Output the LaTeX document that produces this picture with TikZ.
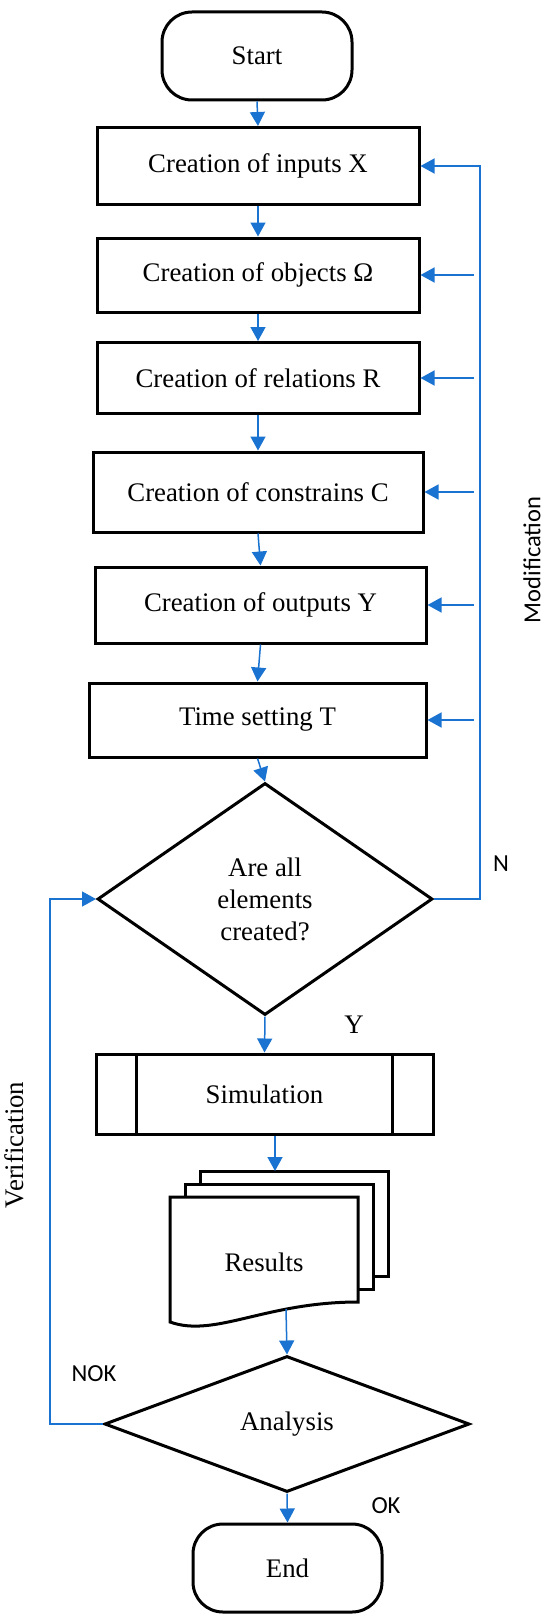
\documentclass[tikz,border=0pt]{standalone}
\usepackage{fontspec}
\setmainfont{Liberation Serif}
\newfontfamily\sanslabel{Carlito}
\usetikzlibrary{shapes.geometric,arrows.meta}
\definecolor{flowblue}{RGB}{26,115,208}

\begin{document}
\begin{tikzpicture}[x=1pt,y=-1pt,
		every node/.style={font=\fontsize{26.8}{32}\selectfont},
		terminal/.style={draw,line width=3pt,rounded corners=30pt,minimum width=190pt,minimum height=88pt},
		process/.style={draw,line width=3pt,minimum height=76pt},
		decision/.style={draw,diamond,line width=3pt,align=center,inner sep=0pt},
		flow/.style={draw=flowblue,line width=1.5pt,-{Triangle[length=14pt,width=15pt]}},
		branch/.style={font=\sanslabel\fontsize{24.5}{28}\selectfont}]
		\useasboundingbox (0,0) rectangle (550,1616);
		\node[terminal] (start) at (257,56) {Start};
		\node[process,minimum width=322pt,minimum height=77pt] (inputs) at (258,166) {Creation of inputs X};
		\node[process,minimum width=322pt,minimum height=74pt] (objects) at (258,275) {Creation of objects Ω};
		\node[process,minimum width=322pt,minimum height=71pt] (relations) at (258,378) {Creation of relations R};
		\node[process,minimum width=330pt,minimum height=80pt] (constrains) at (258,492) {Creation of constrains C};
		\node[process,minimum width=331pt,minimum height=76pt] (outputs) at (260.5,605) {Creation of outputs Y};
		\node[process,minimum width=337pt,minimum height=74pt] (timeset) at (257.5,720) {Time setting T};
		\node[decision,minimum width=335pt,minimum height=232pt] (created) at (265,899) {Are all\\elements\\created?};
		\node[process,minimum width=337pt,minimum height=80pt] (sim) at (264.5,1094) {Simulation};
		\draw[line width=3pt] ([xshift=42pt]sim.north west) -- ([xshift=42pt]sim.south west)
			([xshift=-42pt]sim.north east) -- ([xshift=-42pt]sim.south east);
		% stack of result pages
		\foreach \dx/\dy in {30/-26,15/-13}
			\draw[line width=3pt,fill=white] (170+\dx,1197+\dy) rectangle (358+\dx,1302+\dy);
		\draw[line width=3pt,fill=white] (170,1197) -- (358,1197) -- (358,1302)
			.. controls (265,1302) and (215,1338) .. (170,1322) -- cycle;
		\node (results) at (264,1262) {Results};
		\coordinate (res-in) at (275,1171);
		\coordinate (res-out) at (286,1309);
		\node[decision,minimum width=365pt,minimum height=136pt] (analysis) at (287,1424) {Analysis};
		\node[terminal,minimum width=189pt] (end) at (287.5,1568) {End};
		% main flow
		\draw[flow] (start.south) -- (inputs.north);
		\draw[flow] (inputs.south) -- (objects.north);
		\draw[flow] (objects.south) -- (relations.north);
		\draw[flow] (relations.south) -- (constrains.north);
		\draw[flow] (constrains.south) -- (outputs.north);
		\draw[flow] (outputs.south) -- (timeset.north);
		\draw[flow] (timeset.south) -- (created.north);
		\draw[flow] (created.south) -- (sim.north);
		\draw[flow] (sim.south -| res-in) -- (res-in);
		\draw[flow] (res-out) -- (analysis.north);
		\draw[flow] (analysis.south) -- (end.north);
		% modification loop
		\coordinate (rail) at (480,166);
		\draw[flow] (created.east) -| (rail) -- (inputs.east);
		\foreach \n in {objects,relations,constrains,outputs,timeset}{
			\path (\n.east -| rail) ++(-6,0) coordinate (\n-tap);
			\draw[flow] (\n-tap) -- (\n.east);
		}
		% verification loop
		\coordinate (vrail) at (50,1424);
		\draw[flow] (analysis.west) -- (vrail) |- (created.west);
		% labels
		\node[branch] (nlabel) at (501,864) {N};
		\node (ylabel) at (354,1025) {Y};
		\node[branch] (noklabel) at (94,1374) {NOK};
		\node[branch] (oklabel) at (386,1506) {OK};
		\node[branch,rotate=90] (modif) at (532,560) {Modification};
		\node[rotate=90] (verif) at (14,1145) {Verification};
	\end{tikzpicture}
\end{document}
